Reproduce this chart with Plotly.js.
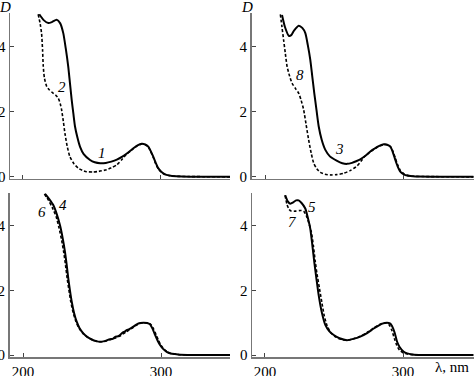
<!DOCTYPE html>
<html>
<head>
<meta charset="utf-8">
<script src="https://cdn.plot.ly/plotly-3.0.1.min.js"></script>
<style>html,body{margin:0;padding:0;background:#fff;}#chart{width:474px;height:376px;}</style>
</head>
<body>
<div id="chart"></div>
<script>
// Curve 1 (top-left, solid)
const wl1 = [211.8,215,218.4,221,224.4,227,229.2,231,232.8,234,235.3,236.5,237.7,239.5,241.3,244,248.6,252,256,260,264,268,272,275,278,280,283,286,288.5,290.8,292.5,294.4,296,298,300,301.7,304,308,315,330,350];
const d1  = [5.0,4.82,4.73,4.76,4.83,4.72,4.42,3.95,3.39,2.9,2.37,1.95,1.55,1.2,0.93,0.7,0.52,0.45,0.42,0.43,0.47,0.53,0.62,0.71,0.81,0.88,0.97,1.02,1.0,0.93,0.8,0.62,0.45,0.27,0.17,0.11,0.06,0.03,0.01,0.0,0.0];
// Curve 2 (top-left, dashed)
const wl2 = [211,212.5,213.5,214.2,214.7,215.5,217.2,219,222,224,225.6,227,228,229.2,230.4,232,234,237,240,243,246,250.8,255,260.6,264,268,272,275,278,280,283,286,288.5,290.8,292.5,294.4,296,298,300,302,305,310,320,350];
const d2  = [5.0,4.7,4.4,3.9,3.4,3.05,2.78,2.68,2.57,2.5,2.42,2.25,2.06,1.72,1.34,0.95,0.62,0.4,0.27,0.2,0.16,0.15,0.17,0.22,0.28,0.37,0.55,0.7,0.8,0.87,0.96,1.01,0.99,0.92,0.78,0.6,0.42,0.25,0.15,0.09,0.05,0.02,0.01,0.0];
// Curve 3 (top-right, solid)
const wl3 = [212.3,214.5,217.2,219,221,224.4,227,229.2,231,232.8,234.2,235.7,237.3,238.9,241,243.7,247,252.2,256,259.4,263,266,269,272.5,276.3,279,282,286,288.5,290.8,292.5,294.4,296,298,300.5,302.9,307,311,330,351];
const d3  = [4.98,4.6,4.34,4.36,4.5,4.65,4.58,4.42,4.05,3.6,3.1,2.57,2.05,1.55,1.15,0.83,0.63,0.49,0.42,0.4,0.43,0.48,0.54,0.64,0.78,0.86,0.94,1.0,0.99,0.93,0.77,0.52,0.33,0.16,0.08,0.04,0.02,0.01,0.0,0.0];
// Curve 8 (top-right, dashed)
const wl8 = [211.1,212.3,213.5,214.7,216,217.8,219.6,222,224.4,226.2,228,229.8,231.6,233.5,235.3,237.5,240.1,243.5,247.3,252,257,262,266.7,269.5,272,276.3,279,282,286,288.5,290.8,292.5,294.4,296,298,300.5,303,307,315,351];
const d8  = [5.0,4.6,4.2,3.8,3.39,3.1,2.88,2.72,2.57,2.35,2.06,1.6,1.14,0.72,0.42,0.25,0.14,0.08,0.06,0.07,0.11,0.2,0.34,0.48,0.62,0.77,0.85,0.93,0.99,0.99,0.93,0.8,0.58,0.38,0.2,0.1,0.05,0.02,0.01,0.0];
// Curve 4 (bottom-left, solid)
const wl4 = [215.9,219,222,224.5,226.8,228.8,230.4,231.6,232.8,234,235.3,237,238.9,241,243.7,246.5,249.8,253,255.8,259,263,265,267,269,270.3,272,274,275.1,277,280,282.4,285,287.2,290,292,294,295.7,297.5,299.3,301.5,304.1,307,310,314,330,350];
const d4  = [4.99,4.82,4.63,4.35,4.01,3.6,3.19,2.8,2.37,2.0,1.65,1.3,1.03,0.83,0.67,0.56,0.48,0.43,0.41,0.43,0.49,0.5,0.57,0.58,0.62,0.69,0.73,0.77,0.8,0.88,0.95,0.99,1.0,0.99,0.95,0.8,0.62,0.45,0.31,0.19,0.1,0.05,0.03,0.01,0.0,0.0];
// Curve 6 (bottom-left, dashed)
const wl6 = [215.5,218.5,221.3,224,226,228,229.6,230.8,232,233.3,234.6,236.4,238.4,240.6,243.4,246.4,249.8,253,255.8,259,263,267,270.3,272,275,277,280,282.4,285,287.2,290,292.5,294.5,296.5,298.3,300,302,304.5,307,310,314,330,350];
const d6  = [4.98,4.78,4.55,4.28,3.95,3.55,3.15,2.78,2.37,2.0,1.65,1.3,1.03,0.83,0.67,0.56,0.48,0.43,0.41,0.42,0.47,0.53,0.59,0.64,0.72,0.78,0.86,0.93,0.98,1.0,0.99,0.95,0.82,0.62,0.44,0.3,0.19,0.1,0.05,0.03,0.01,0.0,0.0];
// Curve 5 (bottom-right, solid)
const wl5 = [214.7,216.5,218.3,220.5,222.5,224.4,226.5,229.2,231,232.8,234.3,235.7,237.3,238.9,241,243.7,246.5,249.8,254,259.4,264,269,274,278.8,282,285,288.4,290.5,292,294,295.7,297.5,300.5,303,308,320,351];
const d5  = [4.94,4.75,4.68,4.72,4.78,4.78,4.7,4.53,4.25,3.91,3.4,2.88,2.35,1.85,1.35,0.93,0.74,0.62,0.52,0.46,0.5,0.57,0.68,0.82,0.9,0.97,1.0,0.98,0.9,0.68,0.41,0.25,0.1,0.05,0.01,0.0,0.0];
// Curve 7 (bottom-right, dashed)
const wl7 = [214.5,216,217.5,219,222,225.6,228,230,232,233.6,235,236.4,237.7,239.5,241.3,243,245,247.5,250.5,254,259.4,264,269,274,278.8,282,285,288,290,292,293.8,295.5,297.5,300,303,308,320,351];
const d7  = [4.94,4.65,4.5,4.45,4.45,4.47,4.45,4.3,4.05,3.8,3.4,2.9,2.5,2.05,1.6,1.2,0.9,0.7,0.58,0.5,0.46,0.5,0.58,0.7,0.84,0.92,0.98,0.99,0.93,0.75,0.5,0.3,0.15,0.07,0.03,0.01,0.0,0.0];

const xTicks = [200, 300];
const yTicks = [0, 2, 4];
const curveLabels = [
  {t: '1', x: 257, y: 0.73, ax: 'x', ay: 'y'},
  {t: '2', x: 228, y: 2.76, ax: 'x', ay: 'y'},
  {t: '8', x: 225.1, y: 3.14, ax: 'x2', ay: 'y2'},
  {t: '3', x: 254.1, y: 0.85, ax: 'x2', ay: 'y2'},
  {t: '6', x: 213.6, y: 4.42, ax: 'x3', ay: 'y3'},
  {t: '4', x: 229.2, y: 4.63, ax: 'x3', ay: 'y3'},
  {t: '5', x: 234.0, y: 4.58, ax: 'x4', ay: 'y4'},
  {t: '7', x: 219.6, y: 4.11, ax: 'x4', ay: 'y4'}
];

const W = 474, H = 376;
const FONT = 'Liberation Serif, Times New Roman, serif';
const solid = {color: '#000', width: 2, shape: 'spline', smoothing: 0.6};
const dashed = {color: '#000', width: 1.6, dash: '3px,2px', shape: 'spline', smoothing: 0.6};

function tr(x, y, line, xa, ya) {
  return {x: x, y: y, mode: 'lines', line: line, xaxis: xa, yaxis: ya, hoverinfo: 'skip', showlegend: false};
}
const data = [
  tr(wl2, d2, dashed, 'x', 'y'), tr(wl1, d1, solid, 'x', 'y'),
  tr(wl8, d8, dashed, 'x2', 'y2'), tr(wl3, d3, solid, 'x2', 'y2'),
  tr(wl6, d6, dashed, 'x3', 'y3'), tr(wl4, d4, solid, 'x3', 'y3'),
  tr(wl7, d7, dashed, 'x4', 'y4'), tr(wl5, d5, solid, 'x4', 'y4')
];

function xax(domPx, range, anchor, showLabels) {
  return {domain: [domPx[0] / W, domPx[1] / W], range: range, anchor: anchor,
    tickvals: xTicks, ticks: 'inside', ticklen: 4, tickwidth: 1, tickcolor: '#444',
    showticklabels: showLabels, tickfont: {family: FONT, size: 15, color: '#000'},
    showline: true, linecolor: '#777', linewidth: 1.5, showgrid: false, zeroline: false, fixedrange: true};
}
function yax(domPx, range, anchor) {
  return {domain: [1 - domPx[1] / H, 1 - domPx[0] / H], range: range, anchor: anchor,
    tickvals: yTicks, ticks: 'inside', ticklen: 4, tickwidth: 1, tickcolor: '#444',
    tickfont: {family: FONT, size: 15, color: '#000'},
    showline: true, linecolor: '#777', linewidth: 1.5, showgrid: false, zeroline: false, fixedrange: true};
}

const annotations = curveLabels.map(l => ({
  text: '<i>' + l.t + '</i>', x: l.x, y: l.y, xref: l.ax, yref: l.ay,
  xanchor: 'center', yanchor: 'middle',
  showarrow: false, font: {family: FONT, size: 15, color: '#000'}
}));
function paperText(t, px, py) {
  return {text: t, x: px / W, y: 1 - py / H, xref: 'paper', yref: 'paper',
    xanchor: 'center', yanchor: 'middle', showarrow: false,
    font: {family: FONT, size: 15, color: '#000'}};
}
annotations.push(paperText('<i>D</i>', 5, 7));
annotations.push(paperText('<i>D</i>', 247, 7));
annotations.push(paperText('λ, nm', 452, 367));

const layout = {
  width: W, height: H, autosize: false,
  margin: {l: 0, r: 0, t: 0, b: 0, pad: 0},
  paper_bgcolor: '#fff', plot_bgcolor: 'rgba(0,0,0,0)',
  showlegend: false,
  xaxis: xax([10, 230], [190.6, 350], 'y', false),
  yaxis: yax([13.3, 178.5], [-0.05, 5.03], 'x'),
  xaxis2: xax([251.5, 474], [190.2, 351.4], 'y2', false),
  yaxis2: yax([13.3, 178.5], [-0.05, 5.03], 'x2'),
  xaxis3: xax([9.5, 230], [190.2, 350], 'y3', true),
  yaxis3: yax([193.3, 357.3], [-0.07, 5.0], 'x3'),
  xaxis4: xax([252, 474], [190.6, 351.4], 'y4', true),
  yaxis4: yax([193.3, 357.3], [-0.07, 5.0], 'x4'),
  annotations: annotations
};

Plotly.newPlot('chart', data, layout, {staticPlot: true, displayModeBar: false});
</script>
</body>
</html>
